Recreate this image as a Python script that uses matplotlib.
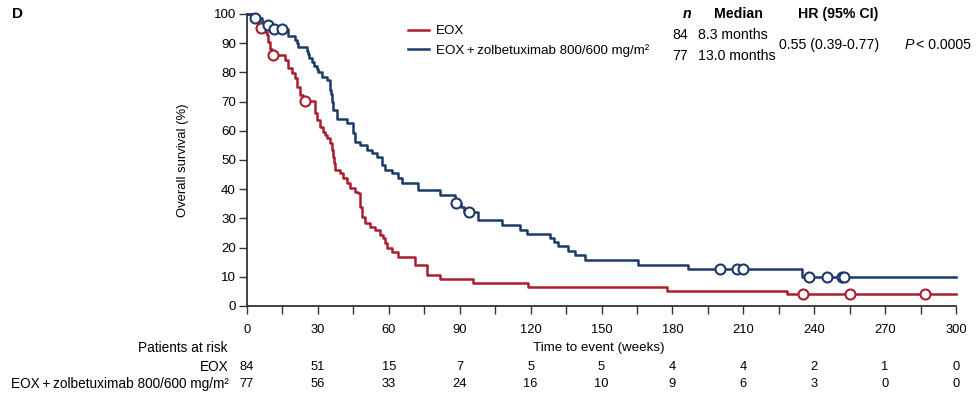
import matplotlib
matplotlib.use("Agg")
import matplotlib.pyplot as plt
from matplotlib import font_manager as fm

names = {f.name for f in fm.fontManager.ttflist}
BASE = "Liberation Sans" if "Liberation Sans" in names else "DejaVu Sans"
NARROW = "Liberation Sans Narrow" if "Liberation Sans Narrow" in names else BASE
plt.rcParams["font.family"] = [BASE, "DejaVu Sans"]

# ---------------- data ----------------
eox_t = [0, 2.5, 4.0, 5.0, 5.7, 7.5, 8.3, 9.0, 9.7, 10.4, 16.1, 17.5, 18.9, 20.3, 21.0,
         22.4, 23.6, 28.8, 29.5, 30.9, 32.3, 33.0, 33.7, 35.1, 35.8, 36.5, 36.8, 37.2,
         39.4, 40.8, 42.2, 43.6, 45.7, 47.1, 47.8, 48.5, 49.9, 52.0, 54.2, 56.3, 57.7,
         58.5, 59.1, 61.2, 64.0, 71.1, 76.0, 81.7, 95.6, 118.8, 177.6, 228.4, 300]
eox_s = [100, 98.8, 97.6, 96.4, 95.2, 94.0, 92.8, 90.4, 88.0, 86.0, 84.2, 81.4, 79.7, 78.0, 75.1,
         72.3, 70.2, 66.0, 63.7, 61.4, 59.7, 58.6, 57.4, 55.7, 53.4, 51.1, 49.0, 46.6,
         45.4, 43.7, 42.0, 40.3, 39.1, 38.6, 34.0, 30.6, 28.3, 27.2, 26.0, 24.3, 23.2,
         21.5, 19.8, 18.6, 16.9, 14.0, 10.6, 9.1, 7.8, 6.6, 5.3, 4.1, 4.1]
eox_cens_t = [6.0, 11.1, 24.4, 235.4, 255.2, 286.9]
eox_cens_s = [95.2, 86.0, 70.2, 4.1, 4.1, 4.1]

zol_t = [0, 2.5, 6.2, 8.0, 10.5, 17.5, 20.5, 21.0, 21.7, 25.3, 26.0, 26.3, 27.4, 28.5,
         29.5, 30.0, 31.6, 33.7, 35.1, 35.5, 36.0, 36.5, 38.0, 42.2, 45.0, 45.7, 47.8,
         50.7, 52.8, 54.9, 57.0, 58.4, 61.2, 64.0, 65.5, 72.5, 81.7, 88.0, 90.6, 92.0,
         97.9, 107.8, 115.5, 118.4, 128.2, 130.0, 131.7, 136.0, 138.8, 143.0, 165.6,
         186.8, 234.7, 300]
zol_s = [100, 98.7, 97.4, 96.1, 94.8, 92.5, 91.2, 90.0, 88.7, 87.5, 86.2, 84.9, 83.6, 82.3,
         81.0, 80.2, 78.5, 77.4, 74.0, 72.7, 70.0, 67.1, 64.0, 62.6, 59.1, 56.3, 55.1,
         53.4, 52.3, 51.1, 48.3, 46.6, 45.4, 43.7, 42.2, 39.7, 38.0, 35.2, 33.9, 32.2,
         29.5, 27.7, 26.0, 24.7, 23.2, 21.8, 20.5, 18.9, 17.5, 15.8, 14.0,
         12.6, 10.0, 10.0]
zol_cens_t = [3.4, 9.0, 11.6, 15.0, 88.4, 94.0, 200.2, 207.5, 210.0, 237.8, 245.3, 251.7, 252.8]
zol_cens_s = [98.7, 96.1, 94.8, 94.8, 35.2, 32.2, 12.6, 12.6, 12.6, 10.0, 10.0, 10.0, 10.0]

x_ticks = list(range(0, 301, 30))
y_ticks = list(range(0, 101, 10))
risk_times = list(range(0, 301, 30))
risk_eox = [84, 51, 15, 7, 5, 5, 4, 4, 2, 1, 0]
risk_zol = [77, 56, 33, 24, 16, 10, 9, 6, 3, 0, 0]

labels = ["EOX", "EOX\u2009+\u2009zolbetuximab 800/600 mg/m\u00b2"]
RED = "#A81E2D"
BLUE = "#1B3A6A"

# ---------------- figure ----------------
W, H = 976, 395
fig = plt.figure(figsize=(W / 100, H / 100), dpi=100)

def fx(px):
    return px / W

def fy(py):
    return 1 - py / H

ax = fig.add_axes([fx(247), fy(306), fx(956) - fx(247), fy(14) - fy(306)])

ax.step(eox_t, eox_s, where="post", color=RED, lw=1.8, label=labels[0], zorder=3)
ax.step(zol_t, zol_s, where="post", color=BLUE, lw=1.8, label=labels[1], zorder=3)
ax.plot(eox_cens_t, eox_cens_s, "o", ms=7.2, mfc="white", mec=RED, mew=1.5, zorder=4, ls="none")
ax.plot(zol_cens_t, zol_cens_s, "o", ms=7.2, mfc="white", mec=BLUE, mew=1.5, zorder=4, ls="none")

ax.set_xlim(0, 300)
ax.set_ylim(0, 100)
ax.set_xticks(x_ticks)
ax.set_xticks(list(range(15, 300, 30)), minor=True)
ax.set_yticks(y_ticks)
ax.tick_params(axis="x", which="both", direction="out", length=6, width=1.0, color="#333333",
               labelsize=9.3, pad=7)
ax.tick_params(axis="y", direction="out", length=6, width=1.0, color="#333333", labelsize=9.6, pad=2)
for lab in ax.get_xticklabels():
    lab.set_fontfamily(NARROW)
for s in ["top", "right"]:
    ax.spines[s].set_visible(False)
for s in ["left", "bottom"]:
    ax.spines[s].set_linewidth(1.3)
    ax.spines[s].set_color("#333333")
for ln in ax.lines:
    ln.set_clip_on(False)

leg = ax.legend(loc="upper left", bbox_to_anchor=(fx(408), fy(25)), bbox_transform=fig.transFigure,
                frameon=False, fontsize=9.6, handlelength=1.6, handletextpad=0.5, labelspacing=0.5,
                borderpad=0, borderaxespad=0)

fig.text(fx(183), fy(160), "Overall survival (%)", rotation=90, ha="center", va="center", fontsize=9.4)
fig.text(fx(12), fy(14), "D", ha="left", va="center", fontsize=11, fontweight="bold")

# summary table
TS = 10.2
fig.text(fx(687), fy(14), "n", ha="center", va="center", fontsize=TS, fontweight="bold", fontstyle="italic")
fig.text(fx(738), fy(14), "Median", ha="center", va="center", fontsize=TS, fontweight="bold")
fig.text(fx(838), fy(14), "HR (95% CI)", ha="center", va="center", fontsize=TS, fontweight="bold")
fig.text(fx(688), fy(35), "84", ha="right", va="center", fontsize=TS)
fig.text(fx(698), fy(35), "8.3 months", ha="left", va="center", fontsize=TS)
fig.text(fx(688), fy(56), "77", ha="right", va="center", fontsize=TS)
fig.text(fx(698), fy(56), "13.0 months", ha="left", va="center", fontsize=TS)
fig.text(fx(829), fy(45), "0.55 (0.39-0.77)", ha="center", va="center", fontsize=TS)
fig.text(fx(905), fy(45), "P", ha="left", va="center", fontsize=TS, fontstyle="italic")
fig.text(fx(916), fy(45), "< 0.0005", ha="left", va="center", fontsize=TS)

# at-risk table
RS = 9.8
fig.text(fx(228), fy(348), "Patients at risk", ha="right", va="center", fontsize=RS, fontfamily=NARROW)
fig.text(fx(599), fy(348), "Time to event (weeks)", ha="center", va="center", fontsize=9.6, fontfamily=NARROW)
fig.text(fx(229), fy(367), labels[0], ha="right", va="center", fontsize=RS, fontfamily=NARROW)
fig.text(fx(229), fy(384), labels[1], ha="right", va="center", fontsize=RS, fontfamily=NARROW)
for t, a, b in zip(risk_times, risk_eox, risk_zol):
    ax.annotate(str(a), xy=(t, 0), xycoords=("data", "axes fraction"), xytext=(0, -61),
                textcoords="offset pixels", ha="center", va="center", fontsize=9.3, fontfamily=NARROW,
                annotation_clip=False)
    ax.annotate(str(b), xy=(t, 0), xycoords=("data", "axes fraction"), xytext=(0, -78),
                textcoords="offset pixels", ha="center", va="center", fontsize=9.3, fontfamily=NARROW,
                annotation_clip=False)

fig.savefig("out.png", dpi=100)
